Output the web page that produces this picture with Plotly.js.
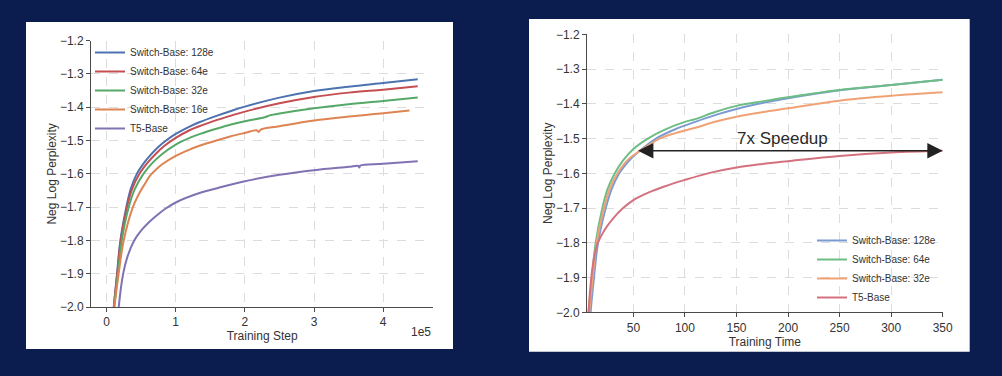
<!DOCTYPE html>
<html>
<head>
<meta charset="utf-8">
<script src="https://cdn.plot.ly/plotly-3.0.1.min.js"></script>
<style>
  html, body { margin: 0; padding: 0; background: #0b1d4f; }
  #chart { width: 1002px; height: 376px; }
</style>
</head>
<body>
<div id="chart"></div>
<script>
// ---------- Left chart: Neg Log Perplexity vs Training Step ----------
const stepSw128 = [9000, 10500, 15200, 20000, 28600, 35000, 43800, 55000, 65000, 76000, 88000, 100000, 120000, 134000, 160000, 180000, 200000, 250000, 300000, 350000, 400000, 450000];
const nlpSw128  = [-2.05, -2.00, -1.90, -1.80, -1.70, -1.645, -1.600, -1.565, -1.540, -1.517, -1.497, -1.480, -1.458, -1.445, -1.425, -1.411, -1.398, -1.371, -1.351, -1.338, -1.327, -1.316];

const stepSw64 = [9000, 10500, 15500, 20500, 29500, 37000, 47600, 60000, 72000, 84300, 100000, 120000, 134000, 160000, 180000, 200000, 250000, 300000, 350000, 400000, 450000];
const nlpSw64  = [-2.05, -2.00, -1.90, -1.80, -1.70, -1.645, -1.600, -1.565, -1.538, -1.515, -1.492, -1.469, -1.457, -1.438, -1.425, -1.413, -1.388, -1.369, -1.356, -1.347, -1.337];

const stepSw32 = [9500, 11000, 16500, 22000, 32000, 41000, 53300, 65000, 80000, 100000, 120000, 135400, 160000, 180000, 200000, 230000, 235000, 250000, 300000, 350000, 400000, 450000];
const nlpSw32  = [-2.05, -2.00, -1.90, -1.80, -1.70, -1.645, -1.600, -1.570, -1.541, -1.512, -1.492, -1.480, -1.464, -1.452, -1.442, -1.429, -1.425, -1.419, -1.403, -1.391, -1.381, -1.371];

const stepSw16 = [10000, 11500, 17500, 24800, 38100, 49000, 56000, 62900, 72000, 80000, 100000, 120000, 135400, 160000, 180000, 200000, 217000, 220000, 223000, 250000, 300000, 350000, 400000, 438000];
const nlpSw16  = [-2.05, -2.00, -1.90, -1.80, -1.70, -1.652, -1.628, -1.605, -1.586, -1.572, -1.546, -1.527, -1.515, -1.499, -1.487, -1.477, -1.469, -1.474, -1.467, -1.457, -1.440, -1.428, -1.418, -1.410];

const stepT5 = [16000, 17600, 24000, 30000, 40000, 49000, 58000, 72000, 85000, 100000, 135400, 160000, 200000, 250000, 300000, 350000, 364000, 365500, 367000, 400000, 450000];
const nlpT5  = [-2.05, -2.00, -1.90, -1.85, -1.80, -1.773, -1.752, -1.726, -1.705, -1.686, -1.657, -1.643, -1.622, -1.603, -1.589, -1.579, -1.576, -1.581, -1.575, -1.570, -1.562];

const stepTickVals = [0, 100000, 200000, 300000, 400000];
const stepTickText = ['0', '1', '2', '3', '4'];
const nlpTickVals  = [-2.0, -1.9, -1.8, -1.7, -1.6, -1.5, -1.4, -1.3, -1.2];

// ---------- Right chart: Neg Log Perplexity vs Training Time ----------
const timeSw128 = [7.5, 8.5, 11.8, 15.7, 23.2, 29, 36.3, 45, 55, 72, 90, 110, 130, 150, 175, 200, 250, 300, 350];
const timeNlp128 = [-2.05, -2.00, -1.90, -1.80, -1.70, -1.645, -1.600, -1.566, -1.538, -1.500, -1.474, -1.452, -1.432, -1.415, -1.398, -1.384, -1.361, -1.346, -1.331];

const timeSw64 = [5.8, 6.5, 9.8, 13.4, 19.9, 25, 32, 40, 50, 64, 80, 100, 110, 130, 150, 175, 200, 250, 300, 350];
const timeNlp64 = [-2.05, -2.00, -1.90, -1.80, -1.70, -1.645, -1.600, -1.563, -1.530, -1.500, -1.475, -1.452, -1.444, -1.423, -1.406, -1.393, -1.381, -1.360, -1.346, -1.331];

const timeSw32 = [6.5, 7.2, 10.5, 14.4, 21.6, 27, 34.6, 45, 55, 75.5, 90, 110, 130, 150, 175, 200, 250, 300, 350];
const timeNlp32 = [-2.05, -2.00, -1.90, -1.80, -1.70, -1.645, -1.600, -1.560, -1.538, -1.500, -1.485, -1.469, -1.451, -1.437, -1.424, -1.413, -1.391, -1.377, -1.367];

const timeT5 = [5.8, 6.5, 9.2, 12, 15.5, 22, 30, 40, 50, 65, 80, 100, 125, 150, 175, 200, 250, 300, 350];
const timeNlpT5 = [-2.05, -2.00, -1.90, -1.84, -1.80, -1.763, -1.731, -1.700, -1.677, -1.655, -1.638, -1.619, -1.598, -1.583, -1.573, -1.565, -1.550, -1.540, -1.535];

const timeTickVals = [50, 100, 150, 200, 250, 300, 350];

// Speedup annotation values
const speedupFrom = 53;
const speedupTo = 350;
const speedupLevel = -1.535;
const speedupLabel = '7x Speedup';

const FONT = 'Liberation Sans, Arial, Helvetica, sans-serif';
const TXT = '#333333';

const traces = [
  {x: stepSw128, y: nlpSw128, name: 'Switch-Base: 128e', line: {color: '#4c72b0'}},
  {x: stepSw64,  y: nlpSw64,  name: 'Switch-Base: 64e',  line: {color: '#c44e52'}},
  {x: stepSw32,  y: nlpSw32,  name: 'Switch-Base: 32e',  line: {color: '#55a868'}},
  {x: stepSw16,  y: nlpSw16,  name: 'Switch-Base: 16e',  line: {color: '#dd8452'}},
  {x: stepT5,    y: nlpT5,    name: 'T5-Base',           line: {color: '#8172b3'}},
  {x: timeSw128, y: timeNlp128, name: 'Switch-Base: 128e', xaxis: 'x2', yaxis: 'y2', legend: 'legend2', line: {color: '#7b9bd2'}},
  {x: timeSw64,  y: timeNlp64,  name: 'Switch-Base: 64e',  xaxis: 'x2', yaxis: 'y2', legend: 'legend2', line: {color: '#6dbd85'}},
  {x: timeSw32,  y: timeNlp32,  name: 'Switch-Base: 32e',  xaxis: 'x2', yaxis: 'y2', legend: 'legend2', line: {color: '#f0a275'}},
  {x: timeT5,    y: timeNlpT5,  name: 'T5-Base',           xaxis: 'x2', yaxis: 'y2', legend: 'legend2', line: {color: '#d4717f'}}
].map(t => {
  t.line = Object.assign({width: 2, shape: 'spline', smoothing: 1}, t.line);
  return Object.assign({type: 'scatter', mode: 'lines', hoverinfo: 'skip'}, t);
});

const axisCommon = {
  showline: true, linecolor: '#4a4a4a', linewidth: 1,
  ticks: 'outside', ticklen: 4, tickcolor: '#4a4a4a', tickwidth: 1,
  showgrid: true, gridcolor: '#dcdcdc', griddash: 'dash', gridwidth: 1,
  zeroline: false, mirror: false, automargin: false,
  tickfont: {family: FONT, size: 12, color: TXT}
};

const layout = {
  width: 1002, height: 376,
  margin: {l: 0, r: 0, t: 0, b: 0},
  paper_bgcolor: '#0b1d4f',
  plot_bgcolor: '#ffffff',
  font: {family: FONT, color: TXT},
  showlegend: true,
  xaxis: Object.assign({}, axisCommon, {
    domain: [91/1002, 433.3/1002], anchor: 'y',
    range: [-22500, 472500], tickvals: stepTickVals, ticktext: stepTickText,
    title: {text: 'Training Step', font: {family: FONT, size: 12, color: TXT}, standoff: 0}
  }),
  yaxis: Object.assign({}, axisCommon, {
    domain: [1 - 307/376, 1 - 40.7/376], anchor: 'x',
    range: [-2.0, -1.2], tickvals: nlpTickVals, tickformat: '.1f',
    title: {text: 'Neg Log Perplexity', font: {family: FONT, size: 12, color: TXT}, standoff: 0}
  }),
  xaxis2: Object.assign({}, axisCommon, {
    domain: [587/1002, 942.7/1002], anchor: 'y2',
    range: [5, 350], tickvals: timeTickVals,
    title: {text: 'Training Time', font: {family: FONT, size: 12, color: TXT}, standoff: 0}
  }),
  yaxis2: Object.assign({}, axisCommon, {
    domain: [1 - 312.3/376, 1 - 34.3/376], anchor: 'x2',
    range: [-2.0, -1.2], tickvals: nlpTickVals, tickformat: '.1f',
    title: {text: 'Neg Log Perplexity', font: {family: FONT, size: 12, color: TXT}, standoff: 0}
  }),
  legend: {
    x: 90/1002, xanchor: 'left', y: 1 - 38/376, yanchor: 'top',
    bgcolor: 'rgba(0,0,0,0)', borderwidth: 0,
    font: {family: FONT, size: 10, color: TXT}
  },
  legend2: {
    x: 812/1002, xanchor: 'left', y: 1 - 312/376, yanchor: 'bottom',
    bgcolor: 'rgba(0,0,0,0)', borderwidth: 0,
    font: {family: FONT, size: 10, color: TXT}
  },
  shapes: [
    {type: 'rect', xref: 'paper', yref: 'paper', x0: 26/1002, x1: 453/1002, y0: 1 - 349/376, y1: 1 - 22/376,
     fillcolor: '#ffffff', line: {width: 0}, layer: 'below'},
    {type: 'rect', xref: 'paper', yref: 'paper', x0: 529/1002, x1: 969.7/1002, y0: 1 - 351.7/376, y1: 1 - 19/376,
     fillcolor: '#ffffff', line: {width: 0}, layer: 'below'}
  ],
  annotations: [
    {xref: 'x domain', yref: 'y domain', x: 1, y: 0, xanchor: 'right', yanchor: 'middle', yshift: -24.7,
     text: '1e5', showarrow: false, font: {family: FONT, size: 12, color: TXT}},
    {xref: 'x2', yref: 'y2', x: speedupTo, y: speedupLevel, axref: 'x2', ayref: 'y2', ax: speedupFrom, ay: speedupLevel,
     text: '', showarrow: true, arrowside: 'end+start', arrowhead: 2, startarrowhead: 2,
     arrowsize: 2.2, startarrowsize: 2.2, arrowwidth: 1.4, arrowcolor: '#222222', standoff: 0, startstandoff: 0},
    {xref: 'x2', yref: 'y2', x: 195, y: speedupLevel, yshift: 12,
     text: speedupLabel, showarrow: false, font: {family: FONT, size: 17, color: '#2a2a2a'}}
  ]
};

Plotly.newPlot('chart', traces, layout, {displayModeBar: false, staticPlot: true});
</script>
</body>
</html>
